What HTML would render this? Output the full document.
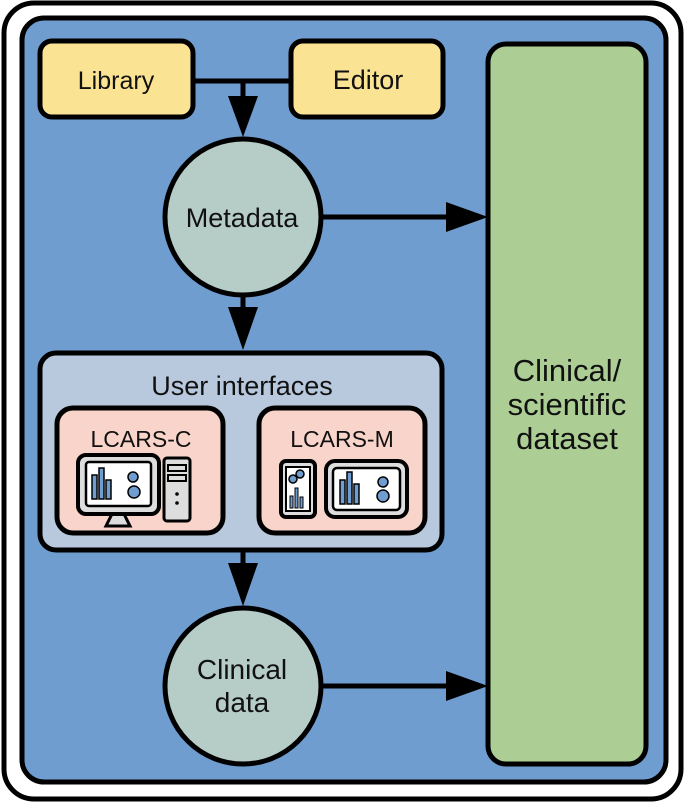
<!DOCTYPE html>
<html><head><meta charset="utf-8"><style>
html,body{margin:0;padding:0;background:#fff;}
svg{display:block;}
text{font-family:"Liberation Sans",Arial,sans-serif;fill:#111;}
</style></head><body>
<svg width="685" height="802" viewBox="0 0 685 802" xmlns="http://www.w3.org/2000/svg">
<rect x="4" y="3" width="677" height="796" rx="30" fill="#fff" stroke="#000" stroke-width="5"/>
<rect x="22" y="18" width="644" height="764" rx="22" fill="#6f9dd0" stroke="#000" stroke-width="5"/>
<!-- green -->
<rect x="488" y="44" width="158" height="720" rx="18" fill="#acce94" stroke="#000" stroke-width="5"/>
<text x="567" y="381" font-size="31" text-anchor="middle">Clinical/</text>
<text x="567" y="415" font-size="31" text-anchor="middle">scientific</text>
<text x="567" y="449" font-size="31" text-anchor="middle">dataset</text>
<!-- connectors -->
<line x1="190" y1="81" x2="295" y2="81" stroke="#000" stroke-width="5"/>
<line x1="243" y1="81" x2="243" y2="100" stroke="#000" stroke-width="5"/>
<polygon points="228,96 258,96 243,137" fill="#000"/>
<line x1="320" y1="217" x2="450" y2="217" stroke="#000" stroke-width="5"/>
<polygon points="446,202 446,232 488,217" fill="#000"/>
<line x1="243" y1="294" x2="243" y2="312" stroke="#000" stroke-width="5"/>
<polygon points="228,307 258,307 243,350" fill="#000"/>
<line x1="243" y1="550" x2="243" y2="568" stroke="#000" stroke-width="5"/>
<polygon points="228,563 258,563 243,606" fill="#000"/>
<line x1="320" y1="686" x2="450" y2="686" stroke="#000" stroke-width="5"/>
<polygon points="446,671 446,701 488,686" fill="#000"/>
<!-- top boxes -->
<rect x="40" y="41" width="153" height="76" rx="12" fill="#fbe394" stroke="#000" stroke-width="5"/>
<text x="116" y="89" font-size="25" text-anchor="middle">Library</text>
<rect x="291" y="41" width="152" height="76" rx="12" fill="#fbe394" stroke="#000" stroke-width="5"/>
<text x="368" y="89" font-size="27" text-anchor="middle">Editor</text>
<!-- circles -->
<circle cx="243" cy="217" r="78" fill="#b6ccc6" stroke="#000" stroke-width="5"/>
<text x="242" y="227" font-size="27" text-anchor="middle">Metadata</text>
<circle cx="243" cy="686" r="78" fill="#b6ccc6" stroke="#000" stroke-width="5"/>
<text x="242" y="679" font-size="28" text-anchor="middle">Clinical</text>
<text x="242" y="712" font-size="28" text-anchor="middle">data</text>
<!-- UI box -->
<rect x="40" y="353" width="402" height="197" rx="16" fill="#b8c9de" stroke="#000" stroke-width="5"/>
<text x="242" y="395" font-size="27" text-anchor="middle">User interfaces</text>
<rect x="57" y="408" width="166" height="125" rx="16" fill="#f9d4ca" stroke="#000" stroke-width="5"/>
<text x="141" y="447" font-size="23" text-anchor="middle">LCARS-C</text>
<rect x="259" y="408" width="166" height="125" rx="16" fill="#f9d4ca" stroke="#000" stroke-width="5"/>
<text x="342" y="447" font-size="23" text-anchor="middle">LCARS-M</text>
<!-- LCARS-C icons -->
<polygon points="112,514 124,514 130,526 106,526" fill="#ddd" stroke="#000" stroke-width="3"/>
<rect x="78" y="455" width="81" height="59" rx="8" fill="#ddd" stroke="#000" stroke-width="4"/>
<rect x="86" y="462" width="65" height="44" rx="3" fill="#fff" stroke="#000" stroke-width="2.5"/>
<rect x="92" y="475" width="5" height="24" fill="#6f9dd0" stroke="#000" stroke-width="1.5"/>
<rect x="99" y="468" width="5" height="31" fill="#6f9dd0" stroke="#000" stroke-width="1.5"/>
<rect x="106" y="480" width="5" height="19" fill="#6f9dd0" stroke="#000" stroke-width="1.5"/>
<circle cx="133" cy="477" r="5" fill="#6f9dd0" stroke="#000" stroke-width="1.5"/>
<circle cx="134" cy="492" r="6" fill="#6f9dd0" stroke="#000" stroke-width="1.5"/>
<rect x="164" y="458" width="26" height="63" rx="3" fill="#ddd" stroke="#000" stroke-width="3"/>
<rect x="168" y="465" width="18" height="6" fill="#ddd" stroke="#000" stroke-width="2"/>
<rect x="168" y="475" width="18" height="6" fill="#ddd" stroke="#000" stroke-width="2"/>
<circle cx="177" cy="494" r="1.8" fill="#000"/>
<circle cx="177" cy="503" r="1.8" fill="#000"/>
<!-- LCARS-M icons -->
<rect x="281" y="461" width="34" height="56" rx="5" fill="#ddd" stroke="#000" stroke-width="4"/>
<rect x="286" y="467" width="24" height="44" fill="#fff" stroke="#000" stroke-width="2"/>
<circle cx="293" cy="479" r="4" fill="#6f9dd0" stroke="#000" stroke-width="1.5"/>
<circle cx="300" cy="474" r="4" fill="#6f9dd0" stroke="#000" stroke-width="1.5"/>
<rect x="290" y="496" width="3" height="12" fill="#6f9dd0" stroke="#000" stroke-width="1"/>
<rect x="295" y="488" width="3" height="20" fill="#6f9dd0" stroke="#000" stroke-width="1"/>
<rect x="300" y="497" width="3" height="11" fill="#6f9dd0" stroke="#000" stroke-width="1"/>
<rect x="326" y="461" width="81" height="56" rx="9" fill="#ddd" stroke="#000" stroke-width="4"/>
<rect x="333" y="468" width="67" height="42" rx="4" fill="#fff" stroke="#000" stroke-width="2.5"/>
<rect x="340" y="480" width="5" height="24" fill="#6f9dd0" stroke="#000" stroke-width="1.5"/>
<rect x="347" y="472" width="5" height="32" fill="#6f9dd0" stroke="#000" stroke-width="1.5"/>
<rect x="354" y="484" width="5" height="20" fill="#6f9dd0" stroke="#000" stroke-width="1.5"/>
<circle cx="383" cy="482" r="5" fill="#6f9dd0" stroke="#000" stroke-width="1.5"/>
<circle cx="383" cy="496" r="6" fill="#6f9dd0" stroke="#000" stroke-width="1.5"/>
</svg>
</body></html>
